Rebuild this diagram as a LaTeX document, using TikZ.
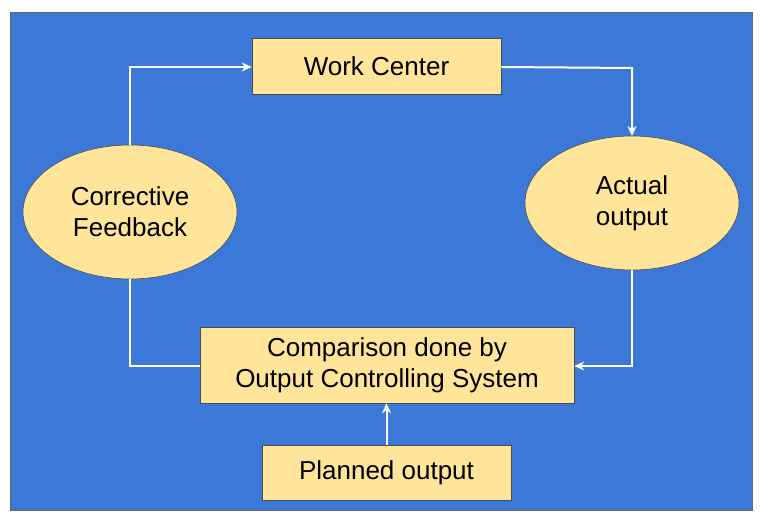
\documentclass[tikz,border=0pt]{standalone}
\usepackage{fontspec}
\setmainfont{Liberation Sans}
\usetikzlibrary{arrows.meta}
\definecolor{bg}{HTML}{3C78D8}
\definecolor{fillc}{HTML}{FFE599}
\begin{document}
\begin{tikzpicture}[x=1pt,y=-1pt,
  txt/.style={font=\fontsize{26}{31}\selectfont, align=center, text=black},
  boxn/.style={txt, draw=black!70, line width=0.6pt, fill=fillc, inner sep=0pt},
  ell/.style={txt, draw=black!70, line width=0.6pt, fill=fillc, ellipse, inner sep=0pt},
  conn/.style={white, line width=2pt},
  arr/.style={conn, -{Stealth[length=10pt,width=9pt]}}]
\useasboundingbox (0,0) rectangle (768,521);
\fill[white] (0,0) rectangle (768,521);
\fill[bg] (10,12) rectangle (752,510);
\draw[black!60, line width=0.5pt] (10,12) rectangle (752,510);
\node[boxn, minimum width=249pt, minimum height=56pt] (wc) at (376.5,66) {Work Center};
\node[boxn, minimum width=374pt, minimum height=76pt] (cmp) at (387,365) {Comparison done by\\Output Controlling System};
\node[boxn, minimum width=249pt, minimum height=55pt] (po) at (386.5,472.5) {Planned output};
\draw[txt, draw=black!70, line width=0.6pt, fill=fillc] (130,212) ellipse [x radius=107, y radius=67];
\node[txt] (cf) at (130,212) {Corrective\\Feedback};
\draw[draw=black!70, line width=0.6pt, fill=fillc] (632,203) ellipse [x radius=107, y radius=67];
\node[txt] (ao) at (632,203) {Actual\\output};
\coordinate (cftop) at (130,145);
\coordinate (cfbot) at (130,279);
\coordinate (aotop) at (632,136);
\coordinate (aobot) at (632,270);
\draw[arr] (cftop) -- (130,67) -- (wc.west |- 0,67);
\draw[arr] (wc.east |- 0,67) -- (632,68) -- (aotop);
\draw[arr] (aobot) -- (632,366) -- (cmp.east |- 0,366);
\draw[conn] (cmp.west |- 0,366) -- (130,366) -- (cfbot);
\draw[arr] (po.north) -- (cmp.south -| po.north);
\end{tikzpicture}
\end{document}
